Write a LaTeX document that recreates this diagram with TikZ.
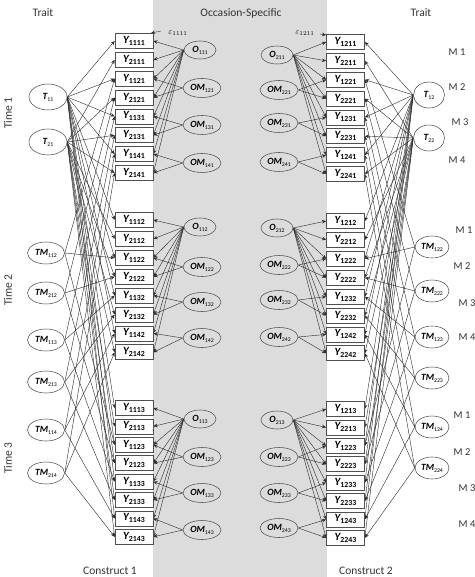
\documentclass[tikz,border=0pt]{standalone}
\usepackage{fontspec}
\setmainfont{Carlito}
\usetikzlibrary{shapes.geometric,arrows.meta}
\pgfdeclarelayer{back}
\pgfdeclarelayer{edges}
\pgfsetlayers{back,edges,main}
\definecolor{band}{RGB}{220,220,220}
\definecolor{ln}{RGB}{45,45,45}
\definecolor{bx}{RGB}{80,80,80}
\newcommand{\ylab}[1]{{\fontsize{11}{12}\selectfont\bfseries\itshape Y}\raisebox{-2pt}{\fontsize{7.8}{8}\selectfont\bfseries #1}}
\newcommand{\lvlab}[2]{{\fontsize{9.5}{10}\selectfont\bfseries\itshape #1}\raisebox{-2pt}{\fontsize{5.8}{6}\selectfont #2}}
\tikzset{
  ybox/.style={draw=bx,fill=white,rectangle,minimum width=38pt,minimum height=15pt,inner sep=0pt,line width=0.7pt},
  lat/.style={draw=bx,ellipse,inner sep=0pt,line width=0.55pt},
  olat/.style={lat,fill=band,minimum width=32pt,minimum height=18pt},
  omlat/.style={lat,fill=band,minimum width=38pt,minimum height=19pt},
  tlat/.style={lat,fill=white,minimum width=38pt,minimum height=26pt},
  trlat/.style={lat,fill=white,minimum width=31pt,minimum height=26pt},
  tmlat/.style={lat,fill=white,minimum width=37pt,minimum height=22pt},
  tmrlat/.style={lat,fill=white,minimum width=34pt,minimum height=22pt},
  arr/.style={draw=ln,line width=0.42pt,-{Stealth[length=4.2pt,width=3.6pt]}},
  ttl/.style={font=\fontsize{11.5}{12}\selectfont,text=black!80},
  mlab/.style={font=\fontsize{10.5}{12}\selectfont,text=black!80},
}
\begin{document}
\begin{tikzpicture}[x=1pt,y=-1pt]
\useasboundingbox (0,0) rectangle (474,577);
\begin{pgfonlayer}{back}
\fill[band] (153,0) rectangle (327,577);
\end{pgfonlayer}
% titles
\node[ttl] (trL) at (43,13) {Trait};
\node[ttl] (occ) at (241,13) {Occasion-Specific};
\node[ttl] (trR) at (421,13) {Trait};
\node[ttl] (c1) at (110,571) {Construct 1};
\node[ttl] (c2) at (366,571) {Construct 2};
\node[ttl,rotate=90] (tm1) at (8,113) {Time 1};
\node[ttl,rotate=90] (tm2) at (8,290) {Time 2};
\node[ttl,rotate=90] (tm3) at (8,458) {Time 3};
% M labels
\foreach \n/\xx/\yy in {1/457/52,2/457/87,3/460/122,4/457/160,
  1/464/230,2/462/266,3/467/303,4/467/337,
  1/462/415,2/462/452,3/467/488,4/467/524}
  \node[mlab] (m\n\yy) at (\xx,\yy) {M \n};
% Y boxes
\foreach \t/\base/\sp in {1/41/18.85,2/220/18.9,3/408/18.4}{
  \foreach \k in {1,...,4}{
    \foreach \i in {1,2}{
      \pgfmathsetmacro\yy{\base+\sp*(2*(\k-1)+\i-1)}
      \node[ybox] (L\i\k\t) at (134,\yy) {\ylab{\i1\k\t}};
      \node[ybox] (R\i\k\t) at (345.5,\yy+1) {\ylab{\i2\k\t}};
    }
  }
}
% occasion-specific factors
\foreach \t/\a/\b/\c/\d in {1/50/88/125/163,2/227/267/302/338,3/419/457/493/530}{
  \node[olat] (OL\t) at (200,\a) {\lvlab{O}{11\t}};
  \node[omlat] (OML2\t) at (202,\b) {\lvlab{OM}{12\t}};
  \node[omlat] (OML3\t) at (202,\c) {\lvlab{OM}{13\t}};
  \node[omlat] (OML4\t) at (202,\d) {\lvlab{OM}{14\t}};
}
\foreach \t/\a/\b/\c/\d in {1/55/90/123/162,2/228/265/300/337,3/420/457/493/528}{
  \node[olat] (OR\t) at (277,\a) {\lvlab{O}{21\t}};
  \node[omlat] (OMR2\t) at (279,\b) {\lvlab{OM}{22\t}};
  \node[omlat] (OMR3\t) at (279,\c) {\lvlab{OM}{23\t}};
  \node[omlat] (OMR4\t) at (279,\d) {\lvlab{OM}{24\t}};
}
% trait factors
\node[tlat] (TL1) at (48,97) {\lvlab{T}{11}};
\node[tlat] (TL2) at (48,142) {\lvlab{T}{21}};
\node[trlat] (TR1) at (429,95) {\lvlab{T}{12}};
\node[trlat] (TR2) at (429,138) {\lvlab{T}{22}};
\foreach \i/\k/\yy in {1/2/253,2/2/293,1/3/340,2/3/382,1/4/430,2/4/473}
  \node[tmlat] (TML\i\k) at (46,\yy) {\lvlab{TM}{\i1\k}};
\foreach \i/\k/\yy in {1/2/247,2/2/291,1/3/337,2/3/378,1/4/427,2/4/468}
  \node[tmrlat] (TMR\i\k) at (432,\yy) {\lvlab{TM}{\i2\k}};
% error labels
\node[font=\fontsize{8.5}{9}\selectfont] (eL) at (178,33) {$\varepsilon_{1111}$};
\node[font=\fontsize{8.5}{9}\selectfont] (eR) at (305,33) {$\varepsilon_{1211}$};
\coordinate (eLc) at (161,31);
\coordinate (eRc) at (320,34);
% edges
\begin{pgfonlayer}{edges}
\draw[arr] (eLc) -- (L111.25);
\draw[arr] (eRc) -- (R111.160);
\foreach \t in {1,2,3}{
  \foreach \k in {1,...,4}{
    \foreach \i in {1,2}{
      \draw[arr] (OL\t.west) -- (L\i\k\t.east);
      \draw[arr] (OR\t.east) -- (R\i\k\t.west);
    }
  }
  \foreach \k in {2,3,4}{
    \foreach \i in {1,2}{
      \draw[arr] (OML\k\t.west) -- (L\i\k\t.east);
      \draw[arr] (OMR\k\t.east) -- (R\i\k\t.west);
    }
  }
}
\foreach \i in {1,2}{
  \foreach \k in {1,...,4}{
    \foreach \t in {1,2,3}{
      \draw[arr] (TL\i.east) -- (L\i\k\t.west);
      \draw[arr] (TR\i.west) -- (R\i\k\t.east);
    }
  }
  \foreach \k in {2,3,4}{
    \foreach \t in {1,2,3}{
      \draw[arr] (TML\i\k.east) -- (L\i\k\t.west);
      \draw[arr] (TMR\i\k.west) -- (R\i\k\t.east);
    }
  }
}
\end{pgfonlayer}
\end{tikzpicture}
\end{document}
